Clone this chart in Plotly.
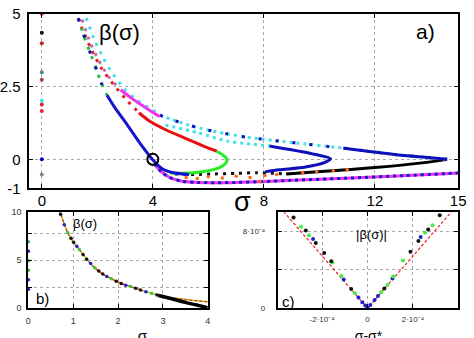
import plotly.graph_objects as go

W, H = 474, 338

# ---------------- main panel (a) data ----------------
blue_top_x = [1.32, 1.55, 1.79, 2.0, 2.14, 2.35]
blue_top_y = [4.84, 4.15, 3.54, 3.0, 2.63, 2.2]
blue_main_x = [2.35, 2.6, 3.09, 3.54, 3.96, 4.35, 4.8, 5.3]
blue_main_y = [2.2, 1.82, 1.17, 0.55, 0.03, -0.33, -0.47, -0.52]

red_top_x = [1.3, 1.44, 1.79, 2.14, 2.6, 3.09, 3.5]
red_top_y = [4.85, 4.51, 3.76, 3.14, 2.55, 2.0, 1.6]
red_main_x = [3.5, 3.9, 4.5, 5.05, 5.6, 6.1, 6.3]
red_main_y = [1.6, 1.3, 1.0, 0.77, 0.55, 0.35, 0.28]
green_nose_x = [6.3, 6.55, 6.68, 6.6, 6.4, 6.1, 5.65, 5.1, 4.6]
green_nose_y = [0.28, 0.13, -0.02, -0.16, -0.28, -0.37, -0.44, -0.48, -0.47]

mag_top_x = [1.45, 1.75, 2.05, 2.4, 2.84]
mag_top_y = [4.8, 4.0, 3.4, 2.85, 2.39]
mag_main_x = [2.84, 3.2, 3.54, 3.9, 4.25]
mag_main_y = [2.39, 2.12, 1.9, 1.67, 1.47]
cyan_top_x = [1.6, 1.9, 2.2, 2.55, 2.95, 3.4, 3.9, 4.25]
cyan_top_y = [4.85, 4.1, 3.5, 2.95, 2.45, 2.05, 1.75, 1.55]

cyan_a_x = [4.25, 4.7, 5.65, 6.7, 7.4, 9.0, 10.9, 12.7, 13.8, 14.6]
cyan_a_y = [1.52, 1.36, 1.08, 0.87, 0.76, 0.58, 0.38, 0.17, 0.07, 0.0]
blue_a_x = [10.9, 12.7, 13.8, 14.6]
blue_a_y = [0.38, 0.17, 0.07, 0.0]
black_ret_x = [14.6, 13.7, 12.0, 10.2, 8.8]
black_ret_y = [0.0, -0.12, -0.28, -0.41, -0.5]
black_dot_x = [4.8, 5.5, 6.2, 7.0, 7.75, 8.8]
black_dot_y = [-0.5, -0.52, -0.5, -0.48, -0.46, -0.5]

cyan_b_x = [4.45, 5.6, 6.7, 7.4, 8.2]
cyan_b_y = [1.18, 0.92, 0.62, 0.54, 0.46]
blue_b_x = [8.2, 9.75, 10.4, 10.2, 9.5, 8.56, 8.04]
blue_b_y = [0.46, 0.19, 0.02, -0.1, -0.26, -0.36, -0.43]

bottom_x = [4.05, 4.3, 4.6, 5.05, 5.6, 6.25, 7.0, 7.8, 9.0, 10.9, 13.0, 15.2]
bottom_y = [-0.15, -0.42, -0.62, -0.75, -0.79, -0.8, -0.79, -0.77, -0.72, -0.65, -0.56, -0.46]

orange_x = [5.2, 5.6, 6.0, 6.5, 7.0, 7.5, 7.86, 8.04, 8.46, 9.4, 9.9, 10.5, 11.0]
orange_y = [-0.62, -0.66, -0.6, -0.64, -0.58, -0.62, -0.75, -0.55, -0.52, -0.46, -0.42, -0.39, -0.36]

zero_y = [5.0, 4.35, 3.99, 2.99, 2.73, 2.01, 1.88, 1.66, 0.0, -0.52]
zero_c = ["#dd2222", "#111111", "#cc2222", "#558888", "#aa4444", "#33eeee", "#dd2233", "#ee2244", "#0000cc", "#888888"]

critical_x = [4.0]
critical_y = [0.0]

# ---------------- panel b data ----------------
b_fit_x = [0.6, 0.72, 0.88, 1.01, 1.14, 1.3, 1.48, 1.66, 1.85, 2.07, 2.28, 2.5, 3.0, 3.5, 4.0]
b_fit_y = [11.2, 9.8, 7.85, 6.86, 6.1, 5.1, 4.2, 3.56, 3.07, 2.57, 2.25, 1.9, 1.25, 0.9, 0.66]
b_dots_x = [0.72, 0.8, 0.88, 0.95, 1.01, 1.08, 1.14, 1.22, 1.3, 1.39, 1.48, 1.57, 1.66, 1.75,
            1.85, 1.96, 2.07, 2.17, 2.28, 2.39, 2.5, 2.62, 2.75, 2.87, 3.0]
b_dots_y = [9.8, 8.7, 7.85, 7.3, 6.86, 6.45, 6.1, 5.6, 5.1, 4.65, 4.2, 3.88, 3.56, 3.3,
            3.07, 2.8, 2.57, 2.4, 2.25, 2.07, 1.9, 1.72, 1.55, 1.38, 1.22]
b_black_x = [2.9, 3.2, 3.5, 3.75, 4.0]
b_black_y = [1.32, 0.98, 0.6, 0.33, 0.05]
b_zero_y = [6.93, 5.94, 4.95, 3.96, 2.97, 1.98]
b_zero_c = ["#33aaaa", "#2222cc", "#33bb33", "#33bb33", "#2222cc", "#2222cc"]

# ---------------- panel c data ----------------
c_fit_x = [-3.7e-4, 0.0, 3.7e-4]
c_fit_y = [1.006e-3, 0.0, 1.006e-3]
c_black_x = [-3.26e-4, -2.72e-4, -2.28e-4, -1.91e-4, -1.6e-4, -0.72e-4, 0.74e-4, 1.89e-4, 2.24e-4, 2.67e-4, 3.18e-4]
c_black_y = [9.46e-4, 8.1e-4, 6.8e-4, 5.76e-4, 4.88e-4, 2.0e-4, 2.05e-4, 5.88e-4, 7.0e-4, 8.2e-4, 9.68e-4]
c_green_x = [-2.93e-4, -2.58e-4, -1.55e-4, -1.15e-4, -0.55e-4, 0.6e-4, 0.88e-4, 1.13e-4, 1.56e-4, 2.53e-4, 2.86e-4]
c_green_y = [8.49e-4, 7.6e-4, 4.75e-4, 3.35e-4, 1.55e-4, 1.65e-4, 2.45e-4, 3.3e-4, 4.96e-4, 7.86e-4, 8.65e-4]
c_blue_x = [-2.4e-4, -1.05e-4, -0.4e-4, -0.23e-4, -0.1e-4, 0.0, 0.12e-4, 0.31e-4, 0.46e-4, 1.1e-4, 2.34e-4]
c_blue_y = [7.2e-4, 3.0e-4, 1.1e-4, 0.62e-4, 0.27e-4, 0.05e-4, 0.33e-4, 0.85e-4, 1.27e-4, 3.1e-4, 7.43e-4]

# axis-title texts of the two small panels (they run off the bottom edge)
bottom_titles = ["σ", "σ-σ*"]

fig = go.Figure()
FONT = "Liberation Sans, Arial, sans-serif"


def line(x, y, color, width=2.5, dash="solid", xa="x", ya="y", smooth=True):
    fig.add_trace(go.Scatter(
        x=x, y=y, mode="lines", xaxis=xa, yaxis=ya, hoverinfo="skip", showlegend=False,
        line=dict(color=color, width=width, dash=dash,
                  shape="spline" if smooth else "linear", smoothing=0.8)))


def dots(x, y, color, size=4, xa="x", ya="y", symbol="circle", clip=True):
    fig.add_trace(go.Scatter(
        x=x, y=y, mode="markers", xaxis=xa, yaxis=ya, hoverinfo="skip", showlegend=False,
        cliponaxis=clip,
        marker=dict(color=color, size=size, symbol=symbol, line=dict(width=0))))


# main panel
line(bottom_x, bottom_y, "#ee33ee", 3)
line(bottom_x, bottom_y, "#1a1acc", 3, "3px,4px")
line(black_dot_x, black_dot_y, "#111111", 3, "3px,5px")
line(black_ret_x, black_ret_y, "#000000", 3)
dots(orange_x, orange_y, "#ff6a1a", 3.5)
line(cyan_b_x, cyan_b_y, "#44e0e8", 3, "3px,4px")
line(blue_b_x, blue_b_y, "#1010bb", 3)
line(cyan_a_x, cyan_a_y, "#44e0e8", 3, "3px,4px")
line(cyan_a_x, cyan_a_y, "#1010bb", 3, "3px,14px")
line(blue_a_x, blue_a_y, "#1010bb", 3)
line(cyan_top_x, cyan_top_y, "#44e0e8", 3, "3px,6px")
line(mag_top_x, mag_top_y, "#cc66aa", 3, "3px,6px")
line(mag_main_x, mag_main_y, "#ee33ee", 3)
line(red_top_x, red_top_y, "#e02020", 3, "3px,6px")
line(red_main_x, red_main_y, "#e81010", 3)
line(green_nose_x, green_nose_y, "#22ee22", 3)
line(blue_top_x, blue_top_y, "#22bb44", 3, "3px,7px")
line(blue_top_x, blue_top_y, "#1010bb", 3, "3px,14px")
line(blue_main_x, blue_main_y, "#1414d0", 3)
dots([0] * len(zero_y), zero_y, zero_c, 4)
dots(critical_x, critical_y, "black", 11, symbol="circle-open")
fig.data[-1].marker.line = dict(width=2, color="black")

# panel b
line(b_fit_x, b_fit_y, "#b8d020", 1.5, xa="x2", ya="y2")
line(b_fit_x, b_fit_y, "#ee2020", 1.2, "3px,2px", xa="x2", ya="y2")
dots(b_dots_x, b_dots_y, ["#111111", "#2222cc", "#33cc33", "#111111"] * 7, 3.5, xa="x2", ya="y2")
line(b_black_x, b_black_y, "#000000", 3.5, xa="x2", ya="y2")
dots([0] * len(b_zero_y), b_zero_y, b_zero_c, 3.5, xa="x2", ya="y2", clip=False)

# panel c
line(c_fit_x, c_fit_y, "#ee2020", 1.2, "3px,2px", xa="x3", ya="y3", smooth=False)
dots(c_blue_x, c_blue_y, "#2020cc", 4, xa="x3", ya="y3")
dots(c_green_x, c_green_y, "#44ee44", 4, xa="x3", ya="y3")
dots(c_black_x, c_black_y, "#111111", 4, xa="x3", ya="y3")

# full-page pixel axis, used only to place the two cut-off axis titles
fig.add_trace(go.Scatter(
    x=[142, 374], y=[338, 338], mode="text", text=bottom_titles,
    textposition="bottom center", textfont=dict(size=[15, 14], family=FONT, color="black"),
    cliponaxis=False, xaxis="x4", yaxis="y4", hoverinfo="skip", showlegend=False))

grid = dict(showgrid=True, gridcolor="#a8a8a8", griddash="dot", gridwidth=1, zeroline=False,
            showline=True, linecolor="black", mirror="ticks", ticks="inside", ticklen=4,
            tickcolor="black")

fig.update_layout(
    width=W, height=H, margin=dict(l=0, r=0, t=0, b=0),
    paper_bgcolor="white", plot_bgcolor="rgba(0,0,0,0)", showlegend=False,
    font=dict(family=FONT, color="black"),
    xaxis=dict(domain=[26 / W, 466 / W], range=[-0.45, 15], anchor="y",
               tickvals=[0, 4, 8, 12, 15], ticktext=["0", "4", "8", "12", "15"],
               linewidth=2, tickfont=dict(size=15), ticklabelstandoff=-2, **grid),
    yaxis=dict(domain=[1 - 189 / H, 1 - 5 / H], range=[-1, 5], anchor="x",
               tickvals=[-1, 0, 2.5, 5], ticktext=["-1", "0", "2.5", "5"],
               linewidth=1.5, tickfont=dict(size=15), ticklabelstandoff=4, **grid),
    xaxis2=dict(domain=[25 / W, 209 / W], range=[0, 4], anchor="y2",
                tickvals=[0, 1, 2, 3, 4], linewidth=2, tickfont=dict(size=9, color="#333"),
                ticklabelstandoff=3, **grid),
    yaxis2=dict(domain=[1 - 315 / H, 1 - 214 / H], range=[0, 10], anchor="x2",
                tickvals=[0, 2.2, 5, 7.8, 10], ticktext=["0", "", "5", "", "10"],
                linewidth=2, tickfont=dict(size=9, color="#333"), ticklabelstandoff=3, **grid),
    xaxis3=dict(domain=[281 / W, 465.7 / W], range=[-3.95e-4, 3.98e-4], anchor="y3",
                tickvals=[-2e-4, 0, 2e-4], ticktext=["-2·10⁻⁴", "0", "2·10⁻⁴"],
                linewidth=2, tickfont=dict(size=8, color="#333"), ticklabelstandoff=2, **grid),
    yaxis3=dict(domain=[1 - 315 / H, 1 - 214 / H], range=[0, 1e-3], anchor="x3",
                tickvals=[0, 4e-4, 8e-4], ticktext=["0", "", "8·10⁻⁴"],
                linewidth=2, tickfont=dict(size=8, color="#333"), ticklabelstandoff=9, **grid),
    xaxis4=dict(domain=[0, 1], range=[0, W], anchor="y4", visible=False, fixedrange=True),
    yaxis4=dict(domain=[0, 1], range=[H, 0], anchor="x4", visible=False, fixedrange=True),
)


def ann(text, x, y, size, color="black"):
    fig.add_annotation(text=text, x=x / W, y=1 - y / H, xref="paper", yref="paper",
                       showarrow=False, font=dict(size=size, family=FONT, color=color),
                       xanchor="center", yanchor="middle")


ann("β(σ)", 118, 25, 22)
ann("a)", 432, 24, 21)
ann("σ", 245, 203, 27)
ann("β(σ)", 83, 226, 13)
ann("b)", 40, 305, 15)
ann("|β(σ)|", 377, 237, 13)
ann("c)", 292, 308, 15)

fig.write_html("out.html")
